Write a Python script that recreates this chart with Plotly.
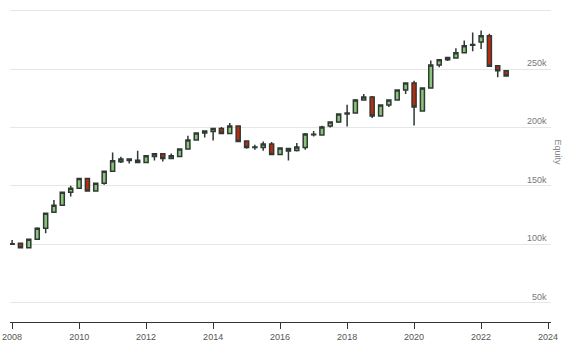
import plotly.graph_objects as go
import pandas as pd

# Quarterly equity candles, values in thousands
quarters = pd.date_range("2008-01-01", periods=60, freq="QS")

open_k = [100.0, 100.9, 97.1, 104.3, 113.7, 127.4, 133.4, 144.6, 148.0, 156.3,
          145.5, 152.3, 162.5, 170.6, 172.9, 172.0, 170.0, 175.1, 177.4, 173.4,
          175.1, 181.5, 189.2, 195.2, 196.6, 199.1, 194.9, 201.2, 188.3, 182.8,
          182.8, 185.8, 176.8, 182.0, 180.3, 182.8, 193.8, 193.5, 201.2, 204.6,
          211.5, 212.3, 223.5, 226.0, 209.8, 219.2, 223.5, 232.0, 238.0, 214.0,
          233.7, 253.5, 258.0, 259.5, 263.8, 270.3, 273.2, 278.4, 252.7, 248.4]
high_k = [103.7, 100.9, 104.3, 114.6, 126.6, 138.0, 144.6, 150.0, 156.3, 156.3,
          152.3, 162.6, 178.6, 174.9, 172.9, 180.0, 175.7, 177.4, 177.4, 177.7,
          181.5, 192.9, 195.2, 196.9, 199.1, 200.3, 203.8, 201.2, 188.3, 185.2,
          188.0, 187.5, 182.3, 182.0, 186.6, 195.2, 196.9, 201.4, 204.6, 211.5,
          219.5, 224.3, 228.6, 226.9, 219.2, 223.5, 232.0, 238.0, 240.0, 233.7,
          257.2, 258.0, 260.3, 267.7, 274.3, 281.2, 282.9, 280.1, 252.7, 248.4]
low_k = [99.8, 97.1, 97.1, 104.3, 109.4, 127.4, 133.4, 140.8, 148.0, 145.5,
         145.1, 151.0, 162.3, 169.5, 169.1, 170.0, 170.0, 171.7, 170.8, 173.4,
         175.1, 181.5, 188.8, 191.4, 188.8, 194.9, 194.9, 188.0, 181.7, 180.9,
         180.0, 176.8, 176.8, 171.7, 179.4, 180.9, 192.3, 193.5, 200.0, 203.8,
         200.9, 212.3, 223.5, 208.0, 209.8, 217.5, 223.5, 228.6, 201.7, 214.0,
         233.7, 251.4, 256.9, 259.5, 263.8, 265.2, 267.2, 252.3, 242.9, 244.0]
close_k = [100.5, 97.1, 104.3, 113.7, 126.6, 133.4, 144.6, 148.0, 156.3, 145.5,
           152.3, 162.6, 171.4, 172.9, 171.7, 170.0, 175.7, 177.4, 173.4, 175.7,
           181.5, 189.2, 195.2, 196.9, 199.1, 194.9, 201.2, 188.0, 182.8, 183.2,
           185.8, 176.8, 182.3, 179.8, 183.2, 194.3, 194.2, 200.3, 204.6, 211.5,
           212.3, 223.5, 226.0, 209.8, 219.2, 223.5, 232.0, 238.0, 217.5, 233.7,
           253.5, 258.0, 259.8, 264.0, 269.8, 270.9, 278.4, 252.3, 248.4, 244.0]

y_tickvals = [50000, 100000, 150000, 200000, 250000, 300000]
y_ticktext = ["50k", "100k", "150k", "200k", "250k", ""]
y_range = [33500, 302200]

edge = "#2e3a33"
fig = go.Figure()
fig.add_trace(go.Candlestick(
    x=quarters,
    open=[v * 1000 for v in open_k],
    high=[v * 1000 for v in high_k],
    low=[v * 1000 for v in low_k],
    close=[v * 1000 for v in close_k],
    increasing=dict(fillcolor="#8dc47b", line=dict(color=edge, width=1.5)),
    decreasing=dict(fillcolor="#c1280e", line=dict(color=edge, width=1.5)),
    whiskerwidth=0,
    showlegend=False,
))

# y tick labels sit inside the plot, just above their gridlines
label_annotations = [
    dict(text=t, xref="paper", x=1.0, xanchor="right", xshift=-2,
         yref="y", y=v, yanchor="middle", yshift=6, showarrow=False,
         font=dict(size=9, color="#777"))
    for v, t in zip(y_tickvals, y_ticktext) if t
]

font = "Liberation Sans, Arial, sans-serif"
fig.update_layout(
    width=580, height=360,
    margin=dict(l=10, r=29, t=8, b=38, autoexpand=False),
    paper_bgcolor="white", plot_bgcolor="white",
    font=dict(family=font, size=9, color="#666"),
    xaxis=dict(
        range=["2007-12-09", "2024-02-02"],
        rangeslider=dict(visible=False),
        tick0="2008-01-01", dtick="M24", tickformat="%Y",
        ticks="outside", ticklen=6, tickcolor="#333", tickwidth=1,
        showline=True, linecolor="#333", linewidth=1,
        showgrid=False, zeroline=False, automargin=False,
        tickfont=dict(size=9, color="#555"),
    ),
    yaxis=dict(
        side="right",
        range=y_range,
        tickvals=y_tickvals,
        showticklabels=False,
        showgrid=True, gridcolor="#e6e6e6", gridwidth=1,
        zeroline=False, showline=False, ticks="", automargin=False,
    ),
    annotations=label_annotations + [dict(
        text="Equity", textangle=90, xref="paper", yref="paper",
        x=1.0, xshift=14, y=0.54, showarrow=False,
        font=dict(size=9, color="#888"),
    )],
)

fig.write_html("out.html", config={"displayModeBar": False},
               post_script="document.body.style.margin='0';")
